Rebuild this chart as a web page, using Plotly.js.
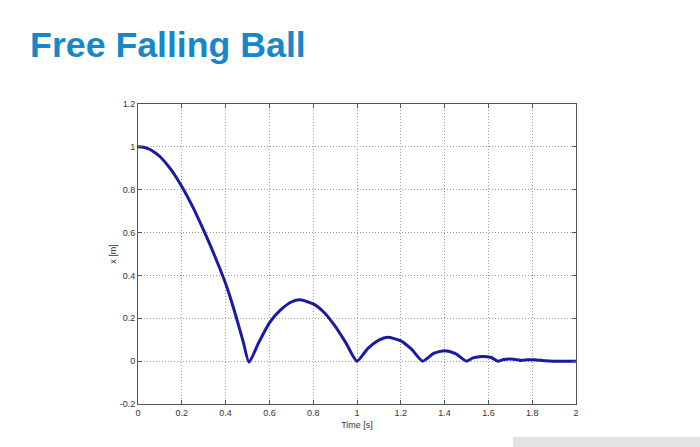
<!DOCTYPE html>
<html>
<head>
<meta charset="utf-8">
<script src="https://cdn.plot.ly/plotly-3.0.1.min.js"></script>
<style>
	html, body { margin: 0; padding: 0; background: #fff; }
	#chart { width: 700px; height: 447px; }
</style>
</head>
<body>
<div id="chart"></div>
<script>
// time [s] and height x [m]
let timeValues = [0, 0.025, 0.05, 0.075, 0.1, 0.15, 0.2, 0.25, 0.3, 0.35, 0.4, 0.425, 0.45, 0.48, 0.507,
	0.55, 0.6, 0.65, 0.7, 0.74, 0.8, 0.85, 0.9, 0.95, 1.0,
	1.05, 1.1, 1.14, 1.2, 1.25, 1.3,
	1.35, 1.4, 1.45, 1.5,
	1.53, 1.57, 1.61, 1.645,
	1.67, 1.7, 1.73, 1.75, 1.78, 1.81, 1.84, 1.86, 1.9, 2.0];
let heightValues = [1, 0.998, 0.99, 0.975, 0.955, 0.895, 0.815, 0.72, 0.61, 0.492, 0.362, 0.285, 0.2, 0.092, -0.005,
	0.084, 0.179, 0.238, 0.276, 0.286, 0.267, 0.227, 0.163, 0.084, 0,
	0.06, 0.098, 0.111, 0.095, 0.055, 0,
	0.036, 0.049, 0.035, 0,
	0.015, 0.022, 0.018, 0,
	0.008, 0.01, 0.007, 0.003, 0.006, 0.007, 0.004, 0.002, 0, 0];
let xTicks = [0, 0.2, 0.4, 0.6, 0.8, 1, 1.2, 1.4, 1.6, 1.8, 2];
let yTicks = [-0.2, 0, 0.2, 0.4, 0.6, 0.8, 1, 1.2];

let ballTrace = {
	x: timeValues,
	y: heightValues,
	type: 'scatter',
	mode: 'lines',
	line: {color: '#1a1aa5', width: 3, shape: 'spline', smoothing: 0.6},
	hoverinfo: 'none'
};

let axisStyle = {
	showline: true,
	linecolor: '#555',
	linewidth: 1,
	mirror: 'ticks',
	ticks: 'inside',
	ticklen: 4,
	tickcolor: '#555',
	showgrid: true,
	gridcolor: '#9a9a9a',
	griddash: '1px,2px',
	gridwidth: 1,
	zeroline: false,
	tickfont: {family: 'Liberation Sans, Arial, sans-serif', size: 9, color: '#333'}
};

let chartLayout = {
	width: 700,
	height: 447,
	margin: {l: 138, r: 124, t: 104, b: 43},
	paper_bgcolor: '#fff',
	plot_bgcolor: '#fff',
	showlegend: false,
	title: {
		text: '<b>Free Falling Ball</b>',
		font: {family: 'Liberation Sans, Arial, sans-serif', size: 35.7, color: '#1787c8'},
		x: 0.043, xanchor: 'left',
		y: 0.9, yanchor: 'middle'
	},
	xaxis: Object.assign({}, axisStyle, {
		range: [0, 2],
		tickvals: xTicks,
		ticktext: xTicks.map(String),
		title: {text: 'Time [s]', standoff: 4, font: {family: 'Liberation Sans, Arial, sans-serif', size: 9, color: '#333'}}
	}),
	yaxis: Object.assign({}, axisStyle, {
		range: [-0.2, 1.2],
		tickvals: yTicks,
		ticktext: yTicks.map(String),
		title: {text: 'x [m]', standoff: 1, font: {family: 'Liberation Sans, Arial, sans-serif', size: 9, color: '#333'}}
	}),
	shapes: [{
		type: 'rect', xref: 'paper', yref: 'paper',
		x0: 0.856, x1: 1.3, y0: -0.143, y1: -0.11,
		fillcolor: '#e3e3e3', line: {width: 0}, layer: 'below'
	}]
};

Plotly.newPlot('chart', [ballTrace], chartLayout, {staticPlot: true, displayModeBar: false});
</script>
</body>
</html>
